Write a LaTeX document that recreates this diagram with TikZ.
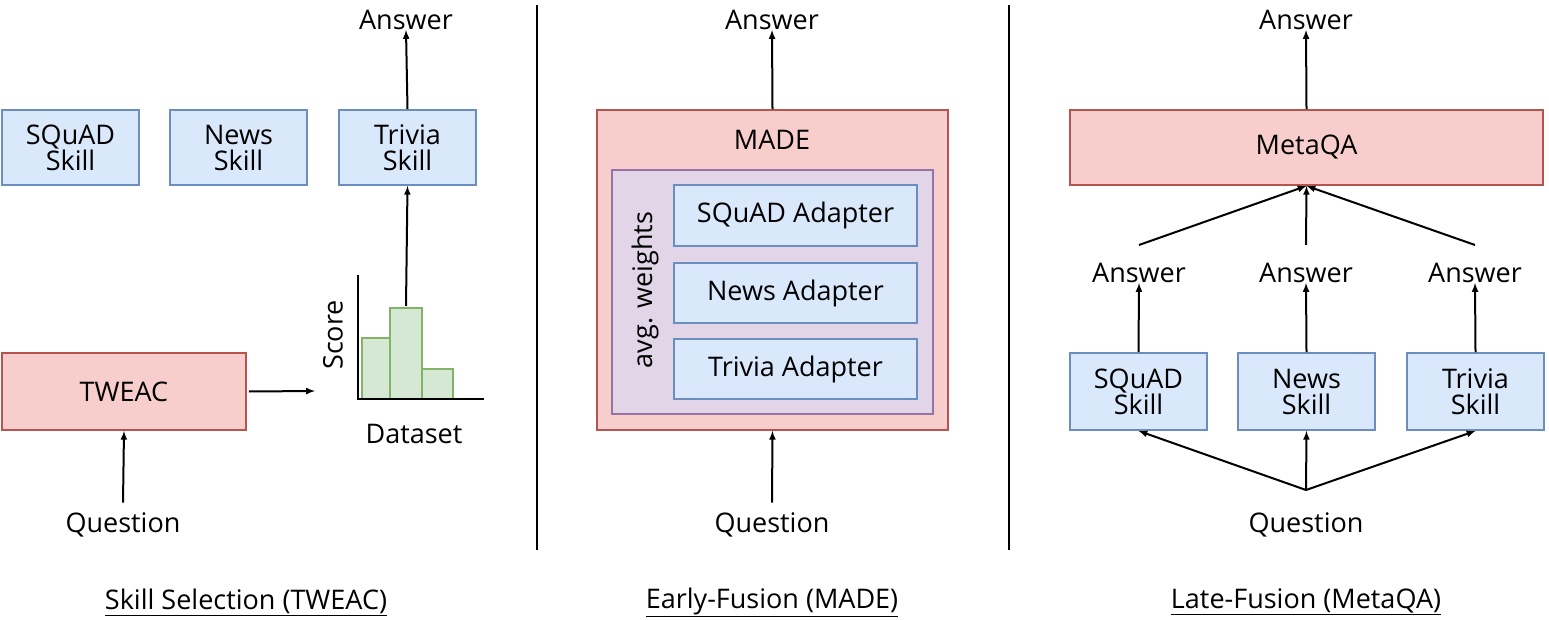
\documentclass[tikz,border=0pt]{standalone}
\usepackage{fontspec}
\setmainfont{Open Sans}
\begin{document}
\begin{tikzpicture}[x=1pt,y=-1pt,font=\fontsize{27}{32}\selectfont,
  blue/.style={draw=blue!50!black!60!white,draw={rgb,255:red,108;green,142;blue,191},fill={rgb,255:red,218;green,232;blue,252},line width=1.8pt,align=center,inner sep=0pt},
  red/.style={draw={rgb,255:red,184;green,84;blue,80},fill={rgb,255:red,248;green,206;blue,204},line width=1.8pt,inner sep=0pt},
  purp/.style={draw={rgb,255:red,150;green,115;blue,166},fill={rgb,255:red,225;green,213;blue,231},line width=1.8pt},
  bar/.style={draw={rgb,255:red,130;green,179;blue,102},fill={rgb,255:red,213;green,232;blue,212},line width=1.8pt},
  arr/.style={-latex,line width=2pt},
  ln/.style={line width=2pt},
  txt/.style={inner sep=0pt}]
\useasboundingbox (0,0) rectangle (1549,620);
% dividers
\draw[ln] (537,5) -- (537,550);
\draw[ln] (1009,5) -- (1009,550);
% ---- left panel
\node[blue,minimum width=137pt,minimum height=75pt] (ls) at (70.5,147.5) {SQuAD\\[-6pt]Skill};
\node[blue,minimum width=137pt,minimum height=75pt] (ln) at (238.5,147.5) {News\\[-6pt]Skill};
\node[blue,minimum width=137pt,minimum height=75pt] (lt) at (407.5,147.5) {Trivia\\[-6pt]Skill};
\node[red,minimum width=244pt,minimum height=77pt] (tw) at (124,391.5) {TWEAC};
\node[txt] (lq) at (123,525) {Question};
\node[txt] (la) at (406,20) {Answer};
\coordinate (hl) at (315,391);
\draw[arr] (lq.north) ++(0,-10) coordinate (lq0) (lq0) -- (tw.south);
\draw[arr] (tw.east) ++(2,0) -- (hl);
\draw[bar] (362,399) rectangle (390,338);
\draw[bar] (390,399) rectangle (422,308);
\draw[bar] (422,399) rectangle (453,369);
\draw[ln] (358,275) -- (358,399) -- (484,399);
\node[txt,rotate=90] (sc) at (333,335) {Score};
\node[txt] (ds) at (414,434) {Dataset};
\coordinate (bt) at (406,306);
\draw[arr] (bt) -- (lt.south);
\draw[arr] (lt.north) -- (la.south);
% ---- middle panel
\node[red,minimum width=351pt,minimum height=320pt] (made) at (772.5,270) {};
\node[txt] (mt) at (772,140) {MADE};
\node[purp,minimum width=321pt,minimum height=244pt] (avg) at (772.5,292) {};
\node[blue,minimum width=243pt,minimum height=61pt] (a1) at (795.5,215.5) {SQuAD Adapter};
\node[blue,minimum width=243pt,minimum height=60pt] (a2) at (795.5,293) {News Adapter};
\node[blue,minimum width=243pt,minimum height=60pt] (a3) at (795.5,369) {Trivia Adapter};
\node[txt,rotate=90] (aw) at (645,290) {avg. weights};
\node[txt] (mq) at (772,525) {Question};
\node[txt] (ma) at (772,20) {Answer};
\draw[arr] (mq.north) ++(0,-10) coordinate (mq0) (mq0) -- (made.south);
\draw[arr] (made.north) -- (ma.south);
% ---- right panel
\node[red,minimum width=473pt,minimum height=75pt] (meta) at (1306.5,147.5) {MetaQA};
\node[txt] (ra) at (1306,20) {Answer};
\draw[arr] (meta.north) -- (ra.south);
\node[txt] (r1) at (1139,273) {Answer};
\node[txt] (r2) at (1306,273) {Answer};
\node[txt] (r3) at (1475,273) {Answer};
\draw[arr] (r1.north) ++(0,-18) -- (meta.south);
\draw[arr] (r2.north) ++(0,-18) -- (meta.south);
\draw[arr] (r3.north) ++(0,-18) -- (meta.south);
\node[blue,minimum width=137pt,minimum height=77pt] (s1) at (1138.5,391.5) {SQuAD\\[-6pt]Skill};
\node[blue,minimum width=137pt,minimum height=77pt] (s2) at (1306.5,391.5) {News\\[-6pt]Skill};
\node[blue,minimum width=137pt,minimum height=77pt] (s3) at (1475.5,391.5) {Trivia\\[-6pt]Skill};
\draw[arr] (s1.north) -- (r1.south);
\draw[arr] (s2.north) -- (r2.south);
\draw[arr] (s3.north) -- (r3.south);
\node[txt] (rq) at (1306,525) {Question};
\coordinate (rq0) at (1306,490);
\draw[arr] (rq0) -- (s1.south);
\draw[arr] (rq0) -- (s2.south);
\draw[arr] (rq0) -- (s3.south);
% captions
\node[txt] (c1) at (246,602) {\underline{Skill Selection (TWEAC)}};
\node[txt] (c2) at (772,602) {\underline{Early-Fusion (MADE)}};
\node[txt] (c3) at (1306,602) {\underline{Late-Fusion (MetaQA)}};
\end{tikzpicture}
\end{document}
